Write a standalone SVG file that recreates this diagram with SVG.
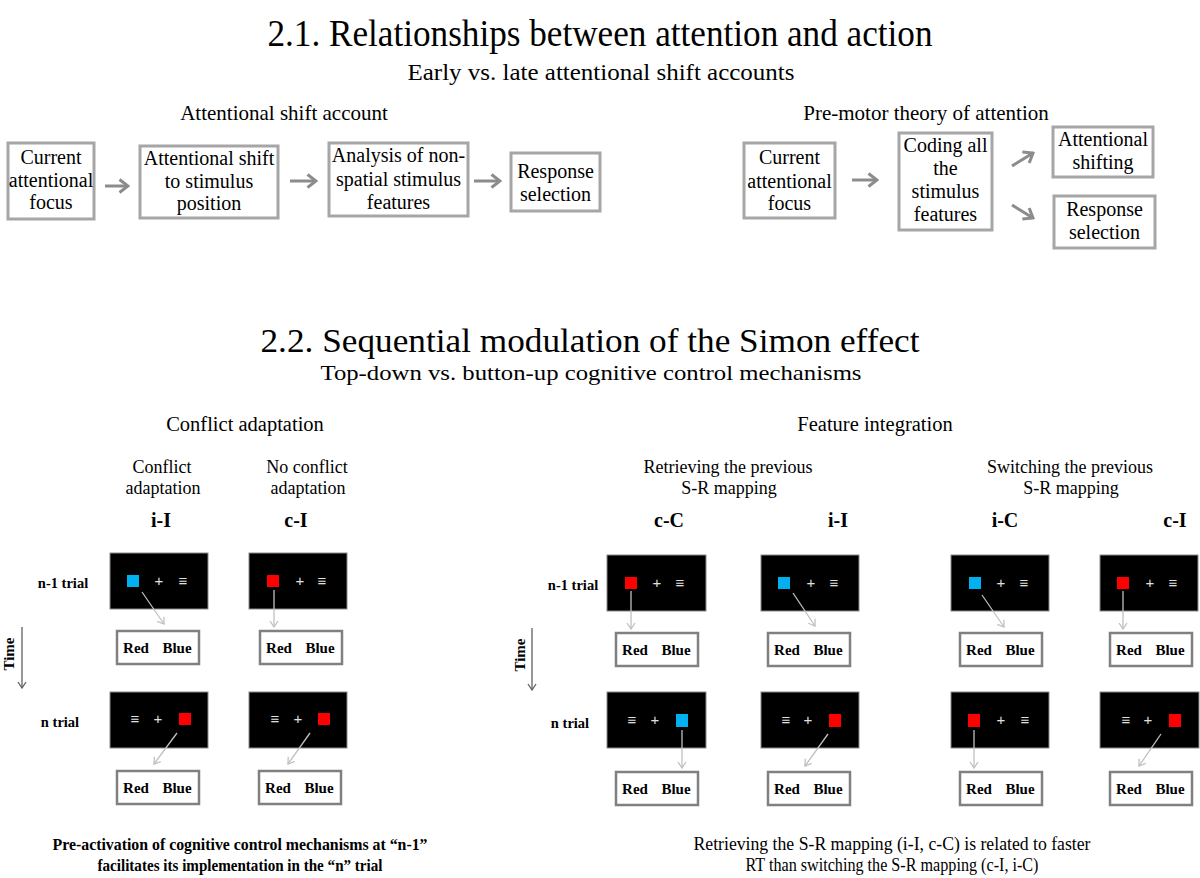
<svg xmlns="http://www.w3.org/2000/svg" width="1200" height="878" viewBox="0 0 1200 878">
<defs>
<style>
.t{font-family:"Liberation Serif","Times New Roman",serif;fill:#000}
.m{text-anchor:middle}
.b{font-weight:bold}
.bx{fill:#fff;stroke:#a6a6a6;stroke-width:3}
.blk{fill:#000;stroke:#8a8a8a;stroke-width:1}
.rb{fill:#fff;stroke:#808080;stroke-width:2.5}
.sym{font-family:"Liberation Sans","DejaVu Sans",sans-serif;fill:#e0e0e0;font-size:15px;text-anchor:middle}
.ta{stroke:#8c8c8c;stroke-width:3;fill:none}
.sa{stroke:#c0c0c0;stroke-width:1.3;fill:none}
.tm{stroke:#606060;stroke-width:1.3;fill:none}
.bt{font-size:20px}
.rbt{font-size:15px;font-weight:bold}
.red{fill:#ff0000}
.blue{fill:#00b0f0}
</style>
<marker id="ah" viewBox="0 0 12 16" refX="10" refY="8" markerWidth="12" markerHeight="16" markerUnits="userSpaceOnUse" orient="auto"><path d="M1.5,1.5 L10,8 L1.5,14.5" fill="none" stroke="#8c8c8c" stroke-width="3"/></marker>
<marker id="sh" viewBox="0 0 8 10" refX="7" refY="5" markerWidth="8" markerHeight="10" markerUnits="userSpaceOnUse" orient="auto"><path d="M1,1 L7,5 L1,9" fill="none" stroke="#c0c0c0" stroke-width="1.3"/></marker>
<marker id="th" viewBox="0 0 8 10" refX="7" refY="5" markerWidth="8" markerHeight="10" markerUnits="userSpaceOnUse" orient="auto"><path d="M1,1 L7,5 L1,9" fill="none" stroke="#606060" stroke-width="1.3"/></marker>
</defs>
<rect width="1200" height="878" fill="#fff"/>

<g id="titles" class="t m">
<text x="600" y="46" font-size="38" textLength="665" lengthAdjust="spacingAndGlyphs">2.1. Relationships between attention and action</text>
<text x="601" y="80" font-size="24" textLength="387" lengthAdjust="spacingAndGlyphs">Early vs. late attentional shift accounts</text>
<text x="284" y="120" font-size="21">Attentional shift account</text>
<text x="926" y="120" font-size="21">Pre-motor theory of attention</text>
<text x="590" y="352" font-size="34" textLength="659" lengthAdjust="spacingAndGlyphs">2.2. Sequential modulation of the Simon effect</text>
<text x="591" y="380" font-size="22" textLength="541" lengthAdjust="spacingAndGlyphs">Top-down vs. button-up cognitive control mechanisms</text>
<text x="245" y="431" font-size="20.5">Conflict adaptation</text>
<text x="875" y="431" font-size="20.5">Feature integration</text>
</g>

<g id="box-current-left" class="t m bt">
<rect class="bx" x="8" y="143" width="86" height="76"/>
<text x="51" y="164">Current</text>
<text x="51" y="187">attentional</text>
<text x="51" y="209">focus</text>
</g>
<g id="box-shift" class="t m bt">
<rect class="bx" x="140" y="146" width="138" height="72"/>
<text x="209" y="165">Attentional shift</text>
<text x="209" y="188">to stimulus</text>
<text x="209" y="210">position</text>
</g>
<g id="box-analysis" class="t m bt">
<rect class="bx" x="329" y="143" width="139" height="73"/>
<text x="398.5" y="162">Analysis of non-</text>
<text x="398.5" y="186">spatial stimulus</text>
<text x="398.5" y="209">features</text>
</g>
<g id="box-response-left" class="t m bt">
<rect class="bx" x="511" y="153" width="89" height="58"/>
<text x="555.5" y="178">Response</text>
<text x="555.5" y="201">selection</text>
</g>

<g id="box-current-right" class="t m bt">
<rect class="bx" x="744" y="143" width="91" height="75"/>
<text x="789.5" y="164">Current</text>
<text x="789.5" y="188">attentional</text>
<text x="789.5" y="210">focus</text>
</g>
<g id="box-coding" class="t m bt">
<rect class="bx" x="899" y="133" width="93" height="97"/>
<text x="945.5" y="152">Coding all</text>
<text x="945.5" y="175">the</text>
<text x="945.5" y="198">stimulus</text>
<text x="945.5" y="221">features</text>
</g>
<g id="box-attshifting" class="t m bt">
<rect class="bx" x="1053" y="127" width="100" height="50"/>
<text x="1103" y="146">Attentional</text>
<text x="1103" y="169">shifting</text>
</g>
<g id="box-response-right" class="t m bt">
<rect class="bx" x="1054" y="196" width="101" height="52"/>
<text x="1104.5" y="216">Response</text>
<text x="1104.5" y="239">selection</text>
</g>

<g id="connectors-top">
<line class="ta" x1="105" y1="186" x2="128" y2="186" marker-end="url(#ah)"/>
<line class="ta" x1="290" y1="181" x2="316" y2="181" marker-end="url(#ah)"/>
<line class="ta" x1="474" y1="181" x2="500" y2="181" marker-end="url(#ah)"/>
<line class="ta" x1="852" y1="180" x2="877" y2="180" marker-end="url(#ah)"/>
<line class="ta" x1="1012" y1="166" x2="1033" y2="153" marker-end="url(#ah)"/>
<line class="ta" x1="1012" y1="205" x2="1033" y2="218" marker-end="url(#ah)"/>
</g>

<g id="labels-conflict" class="t m">
<text x="162" y="473" font-size="18">Conflict</text>
<text x="163" y="494" font-size="18">adaptation</text>
<text x="307" y="473" font-size="18">No conflict</text>
<text x="308" y="494" font-size="18">adaptation</text>
<text class="b" x="161" y="527" font-size="20">i-I</text>
<text class="b" x="296" y="527" font-size="20">c-I</text>
</g>
<g id="labels-feature" class="t m">
<text x="728" y="473" font-size="18">Retrieving the previous</text>
<text x="729" y="494" font-size="18">S-R mapping</text>
<text x="1070" y="473" font-size="18">Switching the previous</text>
<text x="1071" y="494" font-size="18">S-R mapping</text>
<text class="b" x="669" y="527" font-size="20">c-C</text>
<text class="b" x="838" y="527" font-size="20">i-I</text>
<text class="b" x="1005" y="527" font-size="20">i-C</text>
<text class="b" x="1175" y="527" font-size="20">c-I</text>
</g>

<g id="trial-labels" class="t m b" font-size="14.5">
<text x="63" y="588">n-1 trial</text>
<text x="60" y="727">n trial</text>
<text x="573" y="590">n-1 trial</text>
<text x="570" y="728">n trial</text>
</g>

<g id="time-left">
<line class="tm" x1="22" y1="627" x2="22" y2="688" marker-end="url(#th)"/>
<text class="t m b" font-size="15" transform="translate(14,654) rotate(-90)">Time</text>
</g>
<g id="time-right">
<line class="tm" x1="532" y1="628" x2="532" y2="690" marker-end="url(#th)"/>
<text class="t m b" font-size="15" transform="translate(525,655) rotate(-90)">Time</text>
</g>

<g id="stim-A">
<rect class="blk" x="110" y="553" width="98" height="56"/>
<rect class="blue" x="127" y="575" width="12" height="12"/>
<text class="sym" x="159" y="586">+</text>
<text class="sym" x="183" y="586">≡</text>
</g>
<g id="stim-B">
<rect class="blk" x="249" y="553" width="98" height="56"/>
<rect class="red" x="267" y="575" width="12" height="12"/>
<text class="sym" x="300" y="586">+</text>
<text class="sym" x="322" y="586">≡</text>
</g>
<g id="resp-A" class="t rbt m">
<rect class="rb" x="117" y="631" width="82" height="33"/>
<text x="136" y="653">Red</text>
<text x="177" y="653">Blue</text>
</g>
<g id="resp-B" class="t rbt m">
<rect class="rb" x="260" y="631" width="82" height="33"/>
<text x="279" y="653">Red</text>
<text x="320" y="653">Blue</text>
</g>

<g id="stim-C">
<rect class="blk" x="110" y="692" width="98" height="56"/>
<text class="sym" x="135" y="724">≡</text>
<text class="sym" x="158" y="724">+</text>
<rect class="red" x="179" y="713" width="12" height="12"/>
</g>
<g id="stim-D">
<rect class="blk" x="249" y="692" width="98" height="56"/>
<text class="sym" x="275" y="724">≡</text>
<text class="sym" x="298" y="724">+</text>
<rect class="red" x="318" y="713" width="12" height="12"/>
</g>
<g id="resp-C" class="t rbt m">
<rect class="rb" x="117" y="771" width="82" height="33"/>
<text x="136" y="793">Red</text>
<text x="177" y="793">Blue</text>
</g>
<g id="resp-D" class="t rbt m">
<rect class="rb" x="259" y="771" width="82" height="33"/>
<text x="278" y="793">Red</text>
<text x="319" y="793">Blue</text>
</g>

<g id="stim-E">
<rect class="blk" x="607" y="555" width="99" height="56"/>
<rect class="red" x="625" y="577" width="12" height="12"/>
<text class="sym" x="657" y="588">+</text>
<text class="sym" x="680" y="588">≡</text>
</g>
<g id="stim-F">
<rect class="blk" x="761" y="555" width="98" height="56"/>
<rect class="blue" x="778" y="577" width="12" height="12"/>
<text class="sym" x="811" y="588">+</text>
<text class="sym" x="834" y="588">≡</text>
</g>
<g id="stim-G">
<rect class="blk" x="951" y="555" width="98" height="56"/>
<rect class="blue" x="969" y="577" width="12" height="12"/>
<text class="sym" x="1001" y="588">+</text>
<text class="sym" x="1024" y="588">≡</text>
</g>
<g id="stim-H">
<rect class="blk" x="1100" y="555" width="98" height="56"/>
<rect class="red" x="1117" y="577" width="12" height="12"/>
<text class="sym" x="1150" y="588">+</text>
<text class="sym" x="1173" y="588">≡</text>
</g>
<g id="resp-E" class="t rbt m">
<rect class="rb" x="616" y="633" width="82" height="33"/>
<text x="635" y="655">Red</text>
<text x="676" y="655">Blue</text>
</g>
<g id="resp-F" class="t rbt m">
<rect class="rb" x="768" y="633" width="82" height="33"/>
<text x="787" y="655">Red</text>
<text x="828" y="655">Blue</text>
</g>
<g id="resp-G" class="t rbt m">
<rect class="rb" x="960" y="633" width="82" height="33"/>
<text x="979" y="655">Red</text>
<text x="1020" y="655">Blue</text>
</g>
<g id="resp-H" class="t rbt m">
<rect class="rb" x="1110" y="633" width="82" height="33"/>
<text x="1129" y="655">Red</text>
<text x="1170" y="655">Blue</text>
</g>

<g id="stim-E2">
<rect class="blk" x="607" y="692" width="99" height="56"/>
<text class="sym" x="632" y="725">≡</text>
<text class="sym" x="655" y="725">+</text>
<rect class="blue" x="676" y="714" width="12" height="13"/>
</g>
<g id="stim-F2">
<rect class="blk" x="761" y="692" width="98" height="56"/>
<text class="sym" x="786" y="725">≡</text>
<text class="sym" x="808" y="725">+</text>
<rect class="red" x="829" y="714" width="12" height="13"/>
</g>
<g id="stim-G2">
<rect class="blk" x="951" y="692" width="98" height="56"/>
<rect class="red" x="968" y="714" width="12" height="13"/>
<text class="sym" x="1001" y="725">+</text>
<text class="sym" x="1025" y="725">≡</text>
</g>
<g id="stim-H2">
<rect class="blk" x="1100" y="692" width="99" height="56"/>
<text class="sym" x="1126" y="725">≡</text>
<text class="sym" x="1148" y="725">+</text>
<rect class="red" x="1169" y="714" width="12" height="13"/>
</g>
<g id="resp-E2" class="t rbt m">
<rect class="rb" x="616" y="772" width="82" height="33"/>
<text x="635" y="794">Red</text>
<text x="676" y="794">Blue</text>
</g>
<g id="resp-F2" class="t rbt m">
<rect class="rb" x="768" y="772" width="82" height="33"/>
<text x="787" y="794">Red</text>
<text x="828" y="794">Blue</text>
</g>
<g id="resp-G2" class="t rbt m">
<rect class="rb" x="960" y="772" width="82" height="33"/>
<text x="979" y="794">Red</text>
<text x="1020" y="794">Blue</text>
</g>
<g id="resp-H2" class="t rbt m">
<rect class="rb" x="1110" y="772" width="82" height="33"/>
<text x="1129" y="794">Red</text>
<text x="1170" y="794">Blue</text>
</g>

<g id="connectors-stimulus">
<line class="sa" x1="142" y1="592" x2="164" y2="624" marker-end="url(#sh)"/>
<line class="sa" x1="274" y1="590" x2="274" y2="627" marker-end="url(#sh)"/>
<line class="sa" x1="177" y1="733" x2="154" y2="764" marker-end="url(#sh)"/>
<line class="sa" x1="310" y1="733" x2="288" y2="764" marker-end="url(#sh)"/>
<line class="sa" x1="631" y1="591" x2="631" y2="629" marker-end="url(#sh)"/>
<line class="sa" x1="793" y1="593" x2="815" y2="626" marker-end="url(#sh)"/>
<line class="sa" x1="982" y1="595" x2="1004" y2="627" marker-end="url(#sh)"/>
<line class="sa" x1="1123" y1="591" x2="1123" y2="629" marker-end="url(#sh)"/>
<line class="sa" x1="682" y1="730" x2="682" y2="768" marker-end="url(#sh)"/>
<line class="sa" x1="828" y1="734" x2="805" y2="766" marker-end="url(#sh)"/>
<line class="sa" x1="974" y1="730" x2="974" y2="768" marker-end="url(#sh)"/>
<line class="sa" x1="1161" y1="734" x2="1139" y2="766" marker-end="url(#sh)"/>
</g>

<g id="notes" class="t m">
<text class="b" x="240" y="850" font-size="17" textLength="375" lengthAdjust="spacingAndGlyphs">Pre-activation of cognitive control mechanisms at “n-1”</text>
<text class="b" x="240" y="871" font-size="17" textLength="285" lengthAdjust="spacingAndGlyphs">facilitates its implementation in the “n” trial</text>
<text x="892" y="850" font-size="18" textLength="397" lengthAdjust="spacingAndGlyphs">Retrieving the S-R mapping (i-I, c-C) is related to faster</text>
<text x="892" y="871" font-size="18" textLength="293" lengthAdjust="spacingAndGlyphs">RT than switching the S-R mapping (c-I, i-C)</text>
</g>
</svg>
